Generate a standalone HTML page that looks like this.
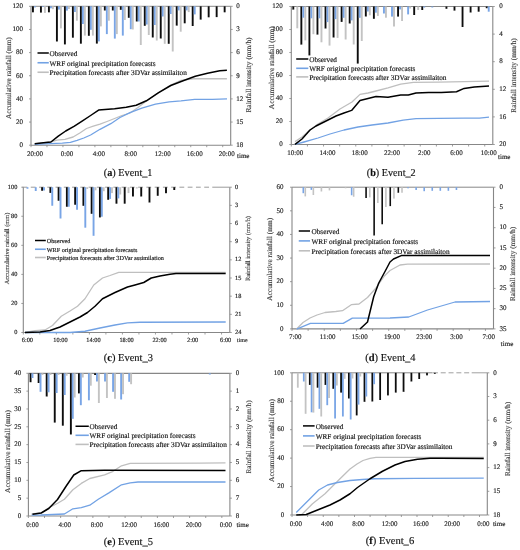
<!DOCTYPE html>
<html><head><meta charset="utf-8"><style>
html,body{margin:0;padding:0;background:#fff;}
svg{display:block;}
text{font-family:"Liberation Serif",serif;text-rendering:geometricPrecision;stroke-width:0.15px;}
</style></head><body>
<svg width="520" height="550" viewBox="0 0 520 550">
<defs><filter id="bl" filterUnits="userSpaceOnUse" x="0" y="0" width="520" height="550"><feGaussianBlur stdDeviation="0.35"/></filter></defs>
<rect width="520" height="550" fill="#fff"/>
<g filter="url(#bl)">
<line x1="31" y1="6.3" x2="230.7" y2="6.3" stroke="#878787" stroke-width="1"/>
<rect x="31.99" y="6.3" width="1.9" height="6" fill="#111111"/>
<rect x="33.99" y="6.3" width="1.9" height="1.1" fill="#79a5e6"/>
<rect x="39.98" y="6.3" width="1.9" height="6.3" fill="#111111"/>
<rect x="41.98" y="6.3" width="1.9" height="0.7" fill="#79a5e6"/>
<rect x="43.98" y="6.3" width="1.9" height="6.6" fill="#c3c3c3"/>
<rect x="47.97" y="6.3" width="1.9" height="6" fill="#111111"/>
<rect x="49.97" y="6.3" width="1.9" height="2" fill="#79a5e6"/>
<rect x="51.97" y="6.3" width="1.9" height="2.9" fill="#c3c3c3"/>
<rect x="55.96" y="6.3" width="1.9" height="35.2" fill="#111111"/>
<rect x="57.96" y="6.3" width="1.9" height="3.3" fill="#79a5e6"/>
<rect x="59.96" y="6.3" width="1.9" height="22.1" fill="#c3c3c3"/>
<rect x="63.95" y="6.3" width="1.9" height="38.1" fill="#111111"/>
<rect x="65.95" y="6.3" width="1.9" height="4.3" fill="#79a5e6"/>
<rect x="67.95" y="6.3" width="1.9" height="2.7" fill="#c3c3c3"/>
<rect x="71.93" y="6.3" width="1.9" height="31.4" fill="#111111"/>
<rect x="73.93" y="6.3" width="1.9" height="5.7" fill="#79a5e6"/>
<rect x="75.93" y="6.3" width="1.9" height="14.4" fill="#c3c3c3"/>
<rect x="79.92" y="6.3" width="1.9" height="37.4" fill="#111111"/>
<rect x="81.92" y="6.3" width="1.9" height="17.7" fill="#79a5e6"/>
<rect x="83.92" y="6.3" width="1.9" height="29.3" fill="#c3c3c3"/>
<rect x="87.91" y="6.3" width="1.9" height="29.5" fill="#111111"/>
<rect x="89.91" y="6.3" width="1.9" height="23.5" fill="#79a5e6"/>
<rect x="91.91" y="6.3" width="1.9" height="29.3" fill="#c3c3c3"/>
<rect x="95.9" y="6.3" width="1.9" height="37.3" fill="#111111"/>
<rect x="97.9" y="6.3" width="1.9" height="35.1" fill="#79a5e6"/>
<rect x="99.9" y="6.3" width="1.9" height="20.1" fill="#c3c3c3"/>
<rect x="103.89" y="6.3" width="1.9" height="4.2" fill="#111111"/>
<rect x="105.89" y="6.3" width="1.9" height="27.8" fill="#79a5e6"/>
<rect x="107.89" y="6.3" width="1.9" height="14.4" fill="#c3c3c3"/>
<rect x="111.87" y="6.3" width="1.9" height="4.2" fill="#111111"/>
<rect x="113.87" y="6.3" width="1.9" height="32.3" fill="#79a5e6"/>
<rect x="115.87" y="6.3" width="1.9" height="27.8" fill="#c3c3c3"/>
<rect x="119.86" y="6.3" width="1.9" height="3.5" fill="#111111"/>
<rect x="121.86" y="6.3" width="1.9" height="29.3" fill="#79a5e6"/>
<rect x="123.86" y="6.3" width="1.9" height="13.7" fill="#c3c3c3"/>
<rect x="127.85" y="6.3" width="1.9" height="11.5" fill="#111111"/>
<rect x="129.85" y="6.3" width="1.9" height="22.9" fill="#79a5e6"/>
<rect x="131.85" y="6.3" width="1.9" height="23.2" fill="#c3c3c3"/>
<rect x="135.84" y="6.3" width="1.9" height="15.2" fill="#111111"/>
<rect x="137.84" y="6.3" width="1.9" height="15.2" fill="#79a5e6"/>
<rect x="139.84" y="6.3" width="1.9" height="38.7" fill="#c3c3c3"/>
<rect x="143.83" y="6.3" width="1.9" height="19.5" fill="#111111"/>
<rect x="145.83" y="6.3" width="1.9" height="18.2" fill="#79a5e6"/>
<rect x="147.83" y="6.3" width="1.9" height="28.7" fill="#c3c3c3"/>
<rect x="151.81" y="6.3" width="1.9" height="31.2" fill="#111111"/>
<rect x="153.81" y="6.3" width="1.9" height="18.7" fill="#79a5e6"/>
<rect x="155.81" y="6.3" width="1.9" height="34.2" fill="#c3c3c3"/>
<rect x="159.8" y="6.3" width="1.9" height="32.2" fill="#111111"/>
<rect x="161.8" y="6.3" width="1.9" height="10.2" fill="#79a5e6"/>
<rect x="163.8" y="6.3" width="1.9" height="37.5" fill="#c3c3c3"/>
<rect x="167.79" y="6.3" width="1.9" height="37.5" fill="#111111"/>
<rect x="169.79" y="6.3" width="1.9" height="7.7" fill="#79a5e6"/>
<rect x="171.79" y="6.3" width="1.9" height="45.2" fill="#c3c3c3"/>
<rect x="175.78" y="6.3" width="1.9" height="19.3" fill="#111111"/>
<rect x="177.78" y="6.3" width="1.9" height="4.1" fill="#79a5e6"/>
<rect x="179.78" y="6.3" width="1.9" height="25.4" fill="#c3c3c3"/>
<rect x="183.77" y="6.3" width="1.9" height="17" fill="#111111"/>
<rect x="185.77" y="6.3" width="1.9" height="4.1" fill="#79a5e6"/>
<rect x="187.77" y="6.3" width="1.9" height="5.8" fill="#c3c3c3"/>
<rect x="191.75" y="6.3" width="1.9" height="19.7" fill="#111111"/>
<rect x="193.75" y="6.3" width="1.9" height="8.1" fill="#79a5e6"/>
<rect x="199.74" y="6.3" width="1.9" height="13.3" fill="#111111"/>
<rect x="207.73" y="6.3" width="1.9" height="11" fill="#111111"/>
<rect x="215.72" y="6.3" width="1.9" height="10.8" fill="#111111"/>
<rect x="223.71" y="6.3" width="1.9" height="6" fill="#111111"/>
<line x1="31" y1="6.3" x2="31" y2="145.2" stroke="#878787" stroke-width="1.1"/>
<line x1="230.7" y1="6.3" x2="230.7" y2="145.2" stroke="#878787" stroke-width="1.1"/>
<line x1="31" y1="145.2" x2="230.7" y2="145.2" stroke="#878787" stroke-width="1.1"/>
<line x1="29" y1="145.2" x2="31" y2="145.2" stroke="#878787" stroke-width="0.8"/>
<text x="22.9" y="146.95" font-size="7" text-anchor="end" fill="#222222" stroke="#222222">0</text>
<line x1="29" y1="122.05" x2="31" y2="122.05" stroke="#878787" stroke-width="0.8"/>
<text x="22.9" y="123.8" font-size="7" text-anchor="end" fill="#222222" stroke="#222222">20</text>
<line x1="29" y1="98.9" x2="31" y2="98.9" stroke="#878787" stroke-width="0.8"/>
<text x="22.9" y="100.65" font-size="7" text-anchor="end" fill="#222222" stroke="#222222">40</text>
<line x1="29" y1="75.75" x2="31" y2="75.75" stroke="#878787" stroke-width="0.8"/>
<text x="22.9" y="77.5" font-size="7" text-anchor="end" fill="#222222" stroke="#222222">60</text>
<line x1="29" y1="52.6" x2="31" y2="52.6" stroke="#878787" stroke-width="0.8"/>
<text x="22.9" y="54.35" font-size="7" text-anchor="end" fill="#222222" stroke="#222222">80</text>
<line x1="29" y1="29.45" x2="31" y2="29.45" stroke="#878787" stroke-width="0.8"/>
<text x="22.9" y="31.2" font-size="7" text-anchor="end" fill="#222222" stroke="#222222">100</text>
<line x1="29" y1="6.3" x2="31" y2="6.3" stroke="#878787" stroke-width="0.8"/>
<text x="22.9" y="8.05" font-size="7" text-anchor="end" fill="#222222" stroke="#222222">120</text>
<line x1="230.7" y1="6.3" x2="232.7" y2="6.3" stroke="#878787" stroke-width="0.8"/>
<text x="236.3" y="8.05" font-size="7" text-anchor="start" fill="#222222" stroke="#222222">0</text>
<line x1="230.7" y1="29.45" x2="232.7" y2="29.45" stroke="#878787" stroke-width="0.8"/>
<text x="236.3" y="31.2" font-size="7" text-anchor="start" fill="#222222" stroke="#222222">3</text>
<line x1="230.7" y1="52.6" x2="232.7" y2="52.6" stroke="#878787" stroke-width="0.8"/>
<text x="236.3" y="54.35" font-size="7" text-anchor="start" fill="#222222" stroke="#222222">6</text>
<line x1="230.7" y1="75.75" x2="232.7" y2="75.75" stroke="#878787" stroke-width="0.8"/>
<text x="236.3" y="77.5" font-size="7" text-anchor="start" fill="#222222" stroke="#222222">9</text>
<line x1="230.7" y1="98.9" x2="232.7" y2="98.9" stroke="#878787" stroke-width="0.8"/>
<text x="236.3" y="100.65" font-size="7" text-anchor="start" fill="#222222" stroke="#222222">12</text>
<line x1="230.7" y1="122.05" x2="232.7" y2="122.05" stroke="#878787" stroke-width="0.8"/>
<text x="236.3" y="123.8" font-size="7" text-anchor="start" fill="#222222" stroke="#222222">15</text>
<line x1="230.7" y1="145.2" x2="232.7" y2="145.2" stroke="#878787" stroke-width="0.8"/>
<text x="236.3" y="146.95" font-size="7" text-anchor="start" fill="#222222" stroke="#222222">18</text>
<line x1="31" y1="145.2" x2="31" y2="147.2" stroke="#878787" stroke-width="0.8"/>
<line x1="46.98" y1="145.2" x2="46.98" y2="147.2" stroke="#878787" stroke-width="0.8"/>
<line x1="62.95" y1="145.2" x2="62.95" y2="147.2" stroke="#878787" stroke-width="0.8"/>
<line x1="78.93" y1="145.2" x2="78.93" y2="147.2" stroke="#878787" stroke-width="0.8"/>
<line x1="94.9" y1="145.2" x2="94.9" y2="147.2" stroke="#878787" stroke-width="0.8"/>
<line x1="110.88" y1="145.2" x2="110.88" y2="147.2" stroke="#878787" stroke-width="0.8"/>
<line x1="126.86" y1="145.2" x2="126.86" y2="147.2" stroke="#878787" stroke-width="0.8"/>
<line x1="142.83" y1="145.2" x2="142.83" y2="147.2" stroke="#878787" stroke-width="0.8"/>
<line x1="158.81" y1="145.2" x2="158.81" y2="147.2" stroke="#878787" stroke-width="0.8"/>
<line x1="174.78" y1="145.2" x2="174.78" y2="147.2" stroke="#878787" stroke-width="0.8"/>
<line x1="190.76" y1="145.2" x2="190.76" y2="147.2" stroke="#878787" stroke-width="0.8"/>
<line x1="206.74" y1="145.2" x2="206.74" y2="147.2" stroke="#878787" stroke-width="0.8"/>
<line x1="222.71" y1="145.2" x2="222.71" y2="147.2" stroke="#878787" stroke-width="0.8"/>
<text x="34.99" y="155.8" font-size="7" text-anchor="middle" fill="#222222" stroke="#222222">20:00</text>
<text x="66.95" y="155.8" font-size="7" text-anchor="middle" fill="#222222" stroke="#222222">0:00</text>
<text x="98.9" y="155.8" font-size="7" text-anchor="middle" fill="#222222" stroke="#222222">4:00</text>
<text x="130.85" y="155.8" font-size="7" text-anchor="middle" fill="#222222" stroke="#222222">8:00</text>
<text x="162.8" y="155.8" font-size="7" text-anchor="middle" fill="#222222" stroke="#222222">12:00</text>
<text x="194.75" y="155.8" font-size="7" text-anchor="middle" fill="#222222" stroke="#222222">16:00</text>
<text x="226.71" y="155.8" font-size="7" text-anchor="middle" fill="#222222" stroke="#222222">20:00</text>
<text x="237" y="158.3" font-size="7" text-anchor="start" fill="#222222" stroke="#222222">time</text>
<polyline points="34.7,143.9 50.2,142 56.9,140.1 65,139.3 73.1,137 79.8,133 86.5,128.5 93.3,126.2 100,124.2 107,121.5 114.6,118.5 122,115.5 130,113 138,107.5 146.4,101 153,96.5 160.7,91.5 170.8,85 181,80.4 193.3,78.75 226.9,78.75" fill="none" stroke="#bfbfbf" stroke-width="1.3" stroke-linejoin="round" stroke-linecap="butt"/>
<polyline points="34.7,144.3 50.2,143.7 62.3,143.1 70.4,142.4 77.1,140.4 83.8,138 90.6,135 100,129.3 110.8,123.7 120,117.5 130,112.6 141.8,108.1 155.5,104.2 169.2,101.8 181,100.8 194.7,99.3 212.4,99.3 227,98.9" fill="none" stroke="#72a2e4" stroke-width="1.3" stroke-linejoin="round" stroke-linecap="butt"/>
<polyline points="34.7,143.7 43.5,142.8 50.9,142 58.3,136.1 65.7,131 74.4,126.2 82.5,120.9 90.6,115.5 98.6,110.1 114.6,108.7 126.2,107.3 136.2,105.2 146.4,100.8 158.6,92.6 170.8,85.5 183.1,80.8 195.3,76.3 207.5,73.2 219.8,70.8 226.9,70.2" fill="none" stroke="#000000" stroke-width="1.5" stroke-linejoin="round" stroke-linecap="butt"/>
<line x1="37.5" y1="53" x2="48.8" y2="53" stroke="#000000" stroke-width="1.5"/>
<text x="49.5" y="55.76" font-size="7.25" text-anchor="start" fill="#111" stroke="#111">Observed</text>
<line x1="37.5" y1="62.75" x2="48.8" y2="62.75" stroke="#72a2e4" stroke-width="1.6"/>
<text x="49.5" y="65.5" font-size="7.25" text-anchor="start" fill="#111" stroke="#111">WRF original precipitation forecasts</text>
<line x1="37.5" y1="72.25" x2="48.8" y2="72.25" stroke="#bfbfbf" stroke-width="1.6"/>
<text x="49.5" y="75" font-size="7.25" text-anchor="start" fill="#111" stroke="#111">Precipitation forecasts after 3DVar assimilaiton</text>
<text transform="translate(11,78.2) rotate(-90)" font-size="7.3" text-anchor="middle" fill="#444" stroke="#444">Accumulative rainfall (mm)</text>
<text transform="translate(251,75) rotate(-90)" font-size="7.4" text-anchor="middle" fill="#444" stroke="#444">Rainfall intensity (mm/h)</text>
<text x="103.8" y="175.5" font-size="10.6" fill="#111" stroke="#111" textLength="48.7" lengthAdjust="spacingAndGlyphs">(<tspan font-weight="bold">a</tspan>) Event_1</text>
<line x1="291.3" y1="6.5" x2="492.8" y2="6.5" stroke="#878787" stroke-width="1"/>
<rect x="292.33" y="6.5" width="1.9" height="3.1" fill="#111111"/>
<rect x="296.33" y="6.5" width="1.9" height="21.8" fill="#c3c3c3"/>
<rect x="300.39" y="6.5" width="1.9" height="38.1" fill="#111111"/>
<rect x="302.39" y="6.5" width="1.9" height="11.2" fill="#79a5e6"/>
<rect x="304.39" y="6.5" width="1.9" height="33.9" fill="#c3c3c3"/>
<rect x="308.45" y="6.5" width="1.9" height="48.9" fill="#111111"/>
<rect x="310.45" y="6.5" width="1.9" height="11.8" fill="#79a5e6"/>
<rect x="312.45" y="6.5" width="1.9" height="27.7" fill="#c3c3c3"/>
<rect x="316.51" y="6.5" width="1.9" height="28.1" fill="#111111"/>
<rect x="318.51" y="6.5" width="1.9" height="11.8" fill="#79a5e6"/>
<rect x="320.51" y="6.5" width="1.9" height="35.8" fill="#c3c3c3"/>
<rect x="324.57" y="6.5" width="1.9" height="22" fill="#111111"/>
<rect x="326.57" y="6.5" width="1.9" height="15.6" fill="#79a5e6"/>
<rect x="328.57" y="6.5" width="1.9" height="39.1" fill="#c3c3c3"/>
<rect x="332.63" y="6.5" width="1.9" height="31" fill="#111111"/>
<rect x="334.63" y="6.5" width="1.9" height="12.6" fill="#79a5e6"/>
<rect x="336.63" y="6.5" width="1.9" height="31.4" fill="#c3c3c3"/>
<rect x="340.69" y="6.5" width="1.9" height="15.4" fill="#111111"/>
<rect x="342.69" y="6.5" width="1.9" height="11.3" fill="#79a5e6"/>
<rect x="344.69" y="6.5" width="1.9" height="33" fill="#c3c3c3"/>
<rect x="348.75" y="6.5" width="1.9" height="17" fill="#111111"/>
<rect x="350.75" y="6.5" width="1.9" height="13.9" fill="#79a5e6"/>
<rect x="352.75" y="6.5" width="1.9" height="38" fill="#c3c3c3"/>
<rect x="356.81" y="6.5" width="1.9" height="57.1" fill="#111111"/>
<rect x="358.81" y="6.5" width="1.9" height="11.3" fill="#79a5e6"/>
<rect x="360.81" y="6.5" width="1.9" height="34.5" fill="#c3c3c3"/>
<rect x="364.87" y="6.5" width="1.9" height="10" fill="#111111"/>
<rect x="366.87" y="6.5" width="1.9" height="5" fill="#79a5e6"/>
<rect x="368.87" y="6.5" width="1.9" height="8.8" fill="#c3c3c3"/>
<rect x="372.93" y="6.5" width="1.9" height="12.3" fill="#111111"/>
<rect x="374.93" y="6.5" width="1.9" height="6.2" fill="#79a5e6"/>
<rect x="376.93" y="6.5" width="1.9" height="9.4" fill="#c3c3c3"/>
<rect x="382.99" y="6.5" width="1.9" height="7" fill="#79a5e6"/>
<rect x="384.99" y="6.5" width="1.9" height="11.2" fill="#c3c3c3"/>
<rect x="391.05" y="6.5" width="1.9" height="10.1" fill="#79a5e6"/>
<rect x="393.05" y="6.5" width="1.9" height="20" fill="#c3c3c3"/>
<rect x="397.11" y="6.5" width="1.9" height="10.1" fill="#111111"/>
<rect x="399.11" y="6.5" width="1.9" height="2.9" fill="#79a5e6"/>
<rect x="401.11" y="6.5" width="1.9" height="14.5" fill="#c3c3c3"/>
<rect x="407.17" y="6.5" width="1.9" height="7.9" fill="#79a5e6"/>
<rect x="409.17" y="6.5" width="1.9" height="2" fill="#c3c3c3"/>
<rect x="413.23" y="6.5" width="1.9" height="8.5" fill="#111111"/>
<rect x="417.23" y="6.5" width="1.9" height="3.5" fill="#c3c3c3"/>
<rect x="421.29" y="6.5" width="1.9" height="3.5" fill="#111111"/>
<rect x="423.29" y="6.5" width="1.9" height="1.1" fill="#79a5e6"/>
<rect x="431.35" y="6.5" width="1.9" height="1" fill="#79a5e6"/>
<rect x="445.47" y="6.5" width="1.9" height="2.3" fill="#111111"/>
<rect x="453.53" y="6.5" width="1.9" height="4.1" fill="#111111"/>
<rect x="461.59" y="6.5" width="1.9" height="20.5" fill="#111111"/>
<rect x="469.65" y="6.5" width="1.9" height="6" fill="#111111"/>
<rect x="477.71" y="6.5" width="1.9" height="5.2" fill="#111111"/>
<rect x="485.77" y="6.5" width="1.9" height="1.7" fill="#111111"/>
<rect x="487.77" y="6.5" width="1.9" height="5.2" fill="#79a5e6"/>
<line x1="291.3" y1="6.5" x2="291.3" y2="144.5" stroke="#878787" stroke-width="1.1"/>
<line x1="492.8" y1="6.5" x2="492.8" y2="144.5" stroke="#878787" stroke-width="1.1"/>
<line x1="291.3" y1="144.5" x2="492.8" y2="144.5" stroke="#878787" stroke-width="1.1"/>
<line x1="289.3" y1="144.5" x2="291.3" y2="144.5" stroke="#878787" stroke-width="0.8"/>
<text x="282.7" y="146.25" font-size="7" text-anchor="end" fill="#222222" stroke="#222222">0</text>
<line x1="289.3" y1="121.5" x2="291.3" y2="121.5" stroke="#878787" stroke-width="0.8"/>
<text x="282.7" y="123.25" font-size="7" text-anchor="end" fill="#222222" stroke="#222222">20</text>
<line x1="289.3" y1="98.5" x2="291.3" y2="98.5" stroke="#878787" stroke-width="0.8"/>
<text x="282.7" y="100.25" font-size="7" text-anchor="end" fill="#222222" stroke="#222222">40</text>
<line x1="289.3" y1="75.5" x2="291.3" y2="75.5" stroke="#878787" stroke-width="0.8"/>
<text x="282.7" y="77.25" font-size="7" text-anchor="end" fill="#222222" stroke="#222222">60</text>
<line x1="289.3" y1="52.5" x2="291.3" y2="52.5" stroke="#878787" stroke-width="0.8"/>
<text x="282.7" y="54.25" font-size="7" text-anchor="end" fill="#222222" stroke="#222222">80</text>
<line x1="289.3" y1="29.5" x2="291.3" y2="29.5" stroke="#878787" stroke-width="0.8"/>
<text x="282.7" y="31.25" font-size="7" text-anchor="end" fill="#222222" stroke="#222222">100</text>
<line x1="289.3" y1="6.5" x2="291.3" y2="6.5" stroke="#878787" stroke-width="0.8"/>
<text x="282.7" y="8.25" font-size="7" text-anchor="end" fill="#222222" stroke="#222222">120</text>
<line x1="492.8" y1="6.5" x2="494.8" y2="6.5" stroke="#878787" stroke-width="0.8"/>
<text x="499.3" y="8.25" font-size="7" text-anchor="start" fill="#222222" stroke="#222222">0</text>
<line x1="492.8" y1="34.1" x2="494.8" y2="34.1" stroke="#878787" stroke-width="0.8"/>
<text x="499.3" y="35.85" font-size="7" text-anchor="start" fill="#222222" stroke="#222222">4</text>
<line x1="492.8" y1="61.7" x2="494.8" y2="61.7" stroke="#878787" stroke-width="0.8"/>
<text x="499.3" y="63.45" font-size="7" text-anchor="start" fill="#222222" stroke="#222222">8</text>
<line x1="492.8" y1="89.3" x2="494.8" y2="89.3" stroke="#878787" stroke-width="0.8"/>
<text x="499.3" y="91.05" font-size="7" text-anchor="start" fill="#222222" stroke="#222222">12</text>
<line x1="492.8" y1="116.9" x2="494.8" y2="116.9" stroke="#878787" stroke-width="0.8"/>
<text x="499.3" y="118.65" font-size="7" text-anchor="start" fill="#222222" stroke="#222222">16</text>
<line x1="492.8" y1="144.5" x2="494.8" y2="144.5" stroke="#878787" stroke-width="0.8"/>
<text x="499.3" y="146.25" font-size="7" text-anchor="start" fill="#222222" stroke="#222222">20</text>
<line x1="291.3" y1="144.5" x2="291.3" y2="146.5" stroke="#878787" stroke-width="0.8"/>
<line x1="307.42" y1="144.5" x2="307.42" y2="146.5" stroke="#878787" stroke-width="0.8"/>
<line x1="323.54" y1="144.5" x2="323.54" y2="146.5" stroke="#878787" stroke-width="0.8"/>
<line x1="339.66" y1="144.5" x2="339.66" y2="146.5" stroke="#878787" stroke-width="0.8"/>
<line x1="355.78" y1="144.5" x2="355.78" y2="146.5" stroke="#878787" stroke-width="0.8"/>
<line x1="371.9" y1="144.5" x2="371.9" y2="146.5" stroke="#878787" stroke-width="0.8"/>
<line x1="388.02" y1="144.5" x2="388.02" y2="146.5" stroke="#878787" stroke-width="0.8"/>
<line x1="404.14" y1="144.5" x2="404.14" y2="146.5" stroke="#878787" stroke-width="0.8"/>
<line x1="420.26" y1="144.5" x2="420.26" y2="146.5" stroke="#878787" stroke-width="0.8"/>
<line x1="436.38" y1="144.5" x2="436.38" y2="146.5" stroke="#878787" stroke-width="0.8"/>
<line x1="452.5" y1="144.5" x2="452.5" y2="146.5" stroke="#878787" stroke-width="0.8"/>
<line x1="468.62" y1="144.5" x2="468.62" y2="146.5" stroke="#878787" stroke-width="0.8"/>
<line x1="484.74" y1="144.5" x2="484.74" y2="146.5" stroke="#878787" stroke-width="0.8"/>
<text x="295.33" y="155.2" font-size="7" text-anchor="middle" fill="#222222" stroke="#222222">10:00</text>
<text x="327.57" y="155.2" font-size="7" text-anchor="middle" fill="#222222" stroke="#222222">14:00</text>
<text x="359.81" y="155.2" font-size="7" text-anchor="middle" fill="#222222" stroke="#222222">18:00</text>
<text x="392.05" y="155.2" font-size="7" text-anchor="middle" fill="#222222" stroke="#222222">22:00</text>
<text x="424.29" y="155.2" font-size="7" text-anchor="middle" fill="#222222" stroke="#222222">2:00</text>
<text x="456.53" y="155.2" font-size="7" text-anchor="middle" fill="#222222" stroke="#222222">6:00</text>
<text x="488.77" y="155.2" font-size="7" text-anchor="middle" fill="#222222" stroke="#222222">10:00</text>
<text x="498" y="159.2" font-size="7" text-anchor="start" fill="#222222" stroke="#222222">time</text>
<polyline points="295,141.6 302,137 310,130 318,124 328,118 340,109 352,102 360,94.4 368,93 376,91 388,87.9 400.7,84.1 413.4,82.3 438.8,82.1 464.1,81.6 489,81.1" fill="none" stroke="#bfbfbf" stroke-width="1.3" stroke-linejoin="round" stroke-linecap="butt"/>
<polyline points="295,144.4 304,142 318,138 330,134 344,130 358,127 372,125 388,123 403.2,120.2 416,118.6 438.8,118.4 464.1,118.1 479.4,118.1 489,117.1" fill="none" stroke="#72a2e4" stroke-width="1.3" stroke-linejoin="round" stroke-linecap="butt"/>
<polyline points="295,144.4 302,139 310,130 316,126 324,122 336,116 344,113 351.6,110.4 360,100.4 368,98.4 376,96.4 388,97.3 400.7,95 408.3,95 416,93 428.6,92.5 441.3,92.5 456.5,91.7 464.1,88.4 474.3,86.9 489,85.9" fill="none" stroke="#000000" stroke-width="1.5" stroke-linejoin="round" stroke-linecap="butt"/>
<line x1="296.2" y1="59" x2="308.3" y2="59" stroke="#000000" stroke-width="1.5"/>
<text x="309.2" y="61.76" font-size="7.25" text-anchor="start" fill="#111" stroke="#111">Observed</text>
<line x1="296.2" y1="68.3" x2="308.3" y2="68.3" stroke="#72a2e4" stroke-width="1.6"/>
<text x="309.2" y="71.05" font-size="7.25" text-anchor="start" fill="#111" stroke="#111">WRF original precipitation forecasts</text>
<line x1="296.2" y1="76.9" x2="308.3" y2="76.9" stroke="#bfbfbf" stroke-width="1.6"/>
<text x="309.2" y="79.66" font-size="7.25" text-anchor="start" fill="#111" stroke="#111">Precipitation forecasts after 3DVar assimilaiton</text>
<text transform="translate(273.5,67.7) rotate(-90)" font-size="7.4" text-anchor="middle" fill="#444" stroke="#444">Accumulative rainfall (mm)</text>
<text transform="translate(515.5,75.5) rotate(-90)" font-size="7.33" text-anchor="middle" fill="#444" stroke="#444">Rainfall intensity (mm/h)</text>
<text x="366.8" y="175.5" font-size="10.6" fill="#111" stroke="#111" textLength="48.9" lengthAdjust="spacingAndGlyphs">(<tspan font-weight="bold">b</tspan>) Event_2</text>
<line x1="22.5" y1="187.2" x2="27.3" y2="187.2" stroke="#9c9c9c" stroke-width="1"/>
<line x1="30.76" y1="187.2" x2="35.56" y2="187.2" stroke="#9c9c9c" stroke-width="1"/>
<line x1="39.02" y1="187.2" x2="43.82" y2="187.2" stroke="#9c9c9c" stroke-width="1"/>
<line x1="47.28" y1="187.2" x2="52.08" y2="187.2" stroke="#9c9c9c" stroke-width="1"/>
<line x1="55.54" y1="187.2" x2="60.34" y2="187.2" stroke="#9c9c9c" stroke-width="1"/>
<line x1="63.8" y1="187.2" x2="68.6" y2="187.2" stroke="#9c9c9c" stroke-width="1"/>
<line x1="72.06" y1="187.2" x2="76.86" y2="187.2" stroke="#9c9c9c" stroke-width="1"/>
<line x1="80.32" y1="187.2" x2="85.12" y2="187.2" stroke="#9c9c9c" stroke-width="1"/>
<line x1="88.58" y1="187.2" x2="93.38" y2="187.2" stroke="#9c9c9c" stroke-width="1"/>
<line x1="96.84" y1="187.2" x2="101.64" y2="187.2" stroke="#9c9c9c" stroke-width="1"/>
<line x1="105.1" y1="187.2" x2="109.9" y2="187.2" stroke="#9c9c9c" stroke-width="1"/>
<line x1="113.36" y1="187.2" x2="118.16" y2="187.2" stroke="#9c9c9c" stroke-width="1"/>
<line x1="121.62" y1="187.2" x2="126.42" y2="187.2" stroke="#9c9c9c" stroke-width="1"/>
<line x1="129.88" y1="187.2" x2="134.68" y2="187.2" stroke="#9c9c9c" stroke-width="1"/>
<line x1="138.14" y1="187.2" x2="142.94" y2="187.2" stroke="#9c9c9c" stroke-width="1"/>
<line x1="146.4" y1="187.2" x2="151.2" y2="187.2" stroke="#9c9c9c" stroke-width="1"/>
<line x1="154.66" y1="187.2" x2="159.46" y2="187.2" stroke="#9c9c9c" stroke-width="1"/>
<line x1="162.92" y1="187.2" x2="167.72" y2="187.2" stroke="#9c9c9c" stroke-width="1"/>
<line x1="171.18" y1="187.2" x2="175.98" y2="187.2" stroke="#9c9c9c" stroke-width="1"/>
<line x1="179.44" y1="187.2" x2="184.24" y2="187.2" stroke="#9c9c9c" stroke-width="1"/>
<line x1="187.7" y1="187.2" x2="192.5" y2="187.2" stroke="#9c9c9c" stroke-width="1"/>
<line x1="195.96" y1="187.2" x2="200.76" y2="187.2" stroke="#9c9c9c" stroke-width="1"/>
<line x1="204.22" y1="187.2" x2="209.02" y2="187.2" stroke="#9c9c9c" stroke-width="1"/>
<line x1="212.28" y1="187.2" x2="229.8" y2="187.2" stroke="#9a9a9a" stroke-width="1"/>
<rect x="26.53" y="187.2" width="1.9" height="1.55" fill="#79a5e6"/>
<rect x="34.79" y="187.2" width="1.9" height="3.8" fill="#79a5e6"/>
<rect x="41.15" y="187.2" width="1.9" height="3.55" fill="#111111"/>
<rect x="43.05" y="187.2" width="1.9" height="3.3" fill="#79a5e6"/>
<rect x="49.41" y="187.2" width="1.9" height="5.7" fill="#111111"/>
<rect x="51.31" y="187.2" width="1.9" height="18.55" fill="#79a5e6"/>
<rect x="57.67" y="187.2" width="1.9" height="13.55" fill="#111111"/>
<rect x="59.57" y="187.2" width="1.9" height="31.3" fill="#79a5e6"/>
<rect x="65.93" y="187.2" width="1.9" height="19.55" fill="#111111"/>
<rect x="67.83" y="187.2" width="1.9" height="19.55" fill="#79a5e6"/>
<rect x="74.19" y="187.2" width="1.9" height="17.55" fill="#111111"/>
<rect x="76.09" y="187.2" width="1.9" height="22.55" fill="#79a5e6"/>
<rect x="82.45" y="187.2" width="1.9" height="18.6" fill="#111111"/>
<rect x="84.35" y="187.2" width="1.9" height="40.5" fill="#79a5e6"/>
<rect x="86.25" y="187.2" width="1.9" height="1.8" fill="#c3c3c3"/>
<rect x="90.71" y="187.2" width="1.9" height="26.6" fill="#111111"/>
<rect x="92.61" y="187.2" width="1.9" height="48.6" fill="#79a5e6"/>
<rect x="94.51" y="187.2" width="1.9" height="3.1" fill="#c3c3c3"/>
<rect x="98.97" y="187.2" width="1.9" height="30.2" fill="#111111"/>
<rect x="100.87" y="187.2" width="1.9" height="29.5" fill="#79a5e6"/>
<rect x="102.77" y="187.2" width="1.9" height="4" fill="#c3c3c3"/>
<rect x="107.23" y="187.2" width="1.9" height="12.6" fill="#111111"/>
<rect x="109.13" y="187.2" width="1.9" height="11.7" fill="#79a5e6"/>
<rect x="111.03" y="187.2" width="1.9" height="5.9" fill="#c3c3c3"/>
<rect x="115.49" y="187.2" width="1.9" height="16.5" fill="#111111"/>
<rect x="117.39" y="187.2" width="1.9" height="11.2" fill="#79a5e6"/>
<rect x="119.29" y="187.2" width="1.9" height="7.3" fill="#c3c3c3"/>
<rect x="123.75" y="187.2" width="1.9" height="16.5" fill="#111111"/>
<rect x="127.55" y="187.2" width="1.9" height="5.9" fill="#c3c3c3"/>
<rect x="132.01" y="187.2" width="1.9" height="9.3" fill="#111111"/>
<rect x="135.81" y="187.2" width="1.9" height="1.3" fill="#c3c3c3"/>
<rect x="140.27" y="187.2" width="1.9" height="9.3" fill="#111111"/>
<rect x="148.53" y="187.2" width="1.9" height="15.3" fill="#111111"/>
<rect x="156.79" y="187.2" width="1.9" height="8.6" fill="#111111"/>
<rect x="165.05" y="187.2" width="1.9" height="6" fill="#111111"/>
<rect x="173.31" y="187.2" width="1.9" height="2.8" fill="#111111"/>
<line x1="23.3" y1="187.2" x2="23.3" y2="332.5" stroke="#878787" stroke-width="1.1"/>
<line x1="229.8" y1="187.2" x2="229.8" y2="332.5" stroke="#878787" stroke-width="1.1"/>
<line x1="23.3" y1="332.5" x2="229.8" y2="332.5" stroke="#878787" stroke-width="1.1"/>
<line x1="21.3" y1="332.5" x2="23.3" y2="332.5" stroke="#878787" stroke-width="0.8"/>
<text x="17.3" y="334.07" font-size="6.3" text-anchor="end" fill="#222222" stroke="#222222">0</text>
<line x1="21.3" y1="303.44" x2="23.3" y2="303.44" stroke="#878787" stroke-width="0.8"/>
<text x="17.3" y="305.01" font-size="6.3" text-anchor="end" fill="#222222" stroke="#222222">20</text>
<line x1="21.3" y1="274.38" x2="23.3" y2="274.38" stroke="#878787" stroke-width="0.8"/>
<text x="17.3" y="275.95" font-size="6.3" text-anchor="end" fill="#222222" stroke="#222222">40</text>
<line x1="21.3" y1="245.32" x2="23.3" y2="245.32" stroke="#878787" stroke-width="0.8"/>
<text x="17.3" y="246.89" font-size="6.3" text-anchor="end" fill="#222222" stroke="#222222">60</text>
<line x1="21.3" y1="216.26" x2="23.3" y2="216.26" stroke="#878787" stroke-width="0.8"/>
<text x="17.3" y="217.83" font-size="6.3" text-anchor="end" fill="#222222" stroke="#222222">80</text>
<line x1="21.3" y1="187.2" x2="23.3" y2="187.2" stroke="#878787" stroke-width="0.8"/>
<text x="17.3" y="188.77" font-size="6.3" text-anchor="end" fill="#222222" stroke="#222222">100</text>
<line x1="229.8" y1="187.2" x2="231.8" y2="187.2" stroke="#878787" stroke-width="0.8"/>
<text x="235" y="188.77" font-size="6.3" text-anchor="start" fill="#222222" stroke="#222222">0</text>
<line x1="229.8" y1="205.36" x2="231.8" y2="205.36" stroke="#878787" stroke-width="0.8"/>
<text x="235" y="206.94" font-size="6.3" text-anchor="start" fill="#222222" stroke="#222222">3</text>
<line x1="229.8" y1="223.52" x2="231.8" y2="223.52" stroke="#878787" stroke-width="0.8"/>
<text x="235" y="225.1" font-size="6.3" text-anchor="start" fill="#222222" stroke="#222222">6</text>
<line x1="229.8" y1="241.69" x2="231.8" y2="241.69" stroke="#878787" stroke-width="0.8"/>
<text x="235" y="243.26" font-size="6.3" text-anchor="start" fill="#222222" stroke="#222222">9</text>
<line x1="229.8" y1="259.85" x2="231.8" y2="259.85" stroke="#878787" stroke-width="0.8"/>
<text x="235" y="261.43" font-size="6.3" text-anchor="start" fill="#222222" stroke="#222222">12</text>
<line x1="229.8" y1="278.01" x2="231.8" y2="278.01" stroke="#878787" stroke-width="0.8"/>
<text x="235" y="279.59" font-size="6.3" text-anchor="start" fill="#222222" stroke="#222222">15</text>
<line x1="229.8" y1="296.18" x2="231.8" y2="296.18" stroke="#878787" stroke-width="0.8"/>
<text x="235" y="297.75" font-size="6.3" text-anchor="start" fill="#222222" stroke="#222222">18</text>
<line x1="229.8" y1="314.34" x2="231.8" y2="314.34" stroke="#878787" stroke-width="0.8"/>
<text x="235" y="315.91" font-size="6.3" text-anchor="start" fill="#222222" stroke="#222222">21</text>
<line x1="229.8" y1="332.5" x2="231.8" y2="332.5" stroke="#878787" stroke-width="0.8"/>
<text x="235" y="334.07" font-size="6.3" text-anchor="start" fill="#222222" stroke="#222222">24</text>
<line x1="23.3" y1="332.5" x2="23.3" y2="334.5" stroke="#878787" stroke-width="0.8"/>
<line x1="39.82" y1="332.5" x2="39.82" y2="334.5" stroke="#878787" stroke-width="0.8"/>
<line x1="56.34" y1="332.5" x2="56.34" y2="334.5" stroke="#878787" stroke-width="0.8"/>
<line x1="72.86" y1="332.5" x2="72.86" y2="334.5" stroke="#878787" stroke-width="0.8"/>
<line x1="89.38" y1="332.5" x2="89.38" y2="334.5" stroke="#878787" stroke-width="0.8"/>
<line x1="105.9" y1="332.5" x2="105.9" y2="334.5" stroke="#878787" stroke-width="0.8"/>
<line x1="122.42" y1="332.5" x2="122.42" y2="334.5" stroke="#878787" stroke-width="0.8"/>
<line x1="138.94" y1="332.5" x2="138.94" y2="334.5" stroke="#878787" stroke-width="0.8"/>
<line x1="155.46" y1="332.5" x2="155.46" y2="334.5" stroke="#878787" stroke-width="0.8"/>
<line x1="171.98" y1="332.5" x2="171.98" y2="334.5" stroke="#878787" stroke-width="0.8"/>
<line x1="188.5" y1="332.5" x2="188.5" y2="334.5" stroke="#878787" stroke-width="0.8"/>
<line x1="205.02" y1="332.5" x2="205.02" y2="334.5" stroke="#878787" stroke-width="0.8"/>
<line x1="221.54" y1="332.5" x2="221.54" y2="334.5" stroke="#878787" stroke-width="0.8"/>
<text x="27.43" y="342" font-size="6.3" text-anchor="middle" fill="#222222" stroke="#222222">6:00</text>
<text x="60.47" y="342" font-size="6.3" text-anchor="middle" fill="#222222" stroke="#222222">10:00</text>
<text x="93.51" y="342" font-size="6.3" text-anchor="middle" fill="#222222" stroke="#222222">14:00</text>
<text x="126.55" y="342" font-size="6.3" text-anchor="middle" fill="#222222" stroke="#222222">18:00</text>
<text x="159.59" y="342" font-size="6.3" text-anchor="middle" fill="#222222" stroke="#222222">22:00</text>
<text x="192.63" y="342" font-size="6.3" text-anchor="middle" fill="#222222" stroke="#222222">2:00</text>
<text x="225.67" y="342" font-size="6.3" text-anchor="middle" fill="#222222" stroke="#222222">6:00</text>
<text x="237" y="342.3" font-size="6" text-anchor="start" fill="#222222" stroke="#222222">time</text>
<polyline points="25,332.5 35,330.75 45,330 52.5,325.5 61.25,316.25 70,311 77.5,306.25 85,298.75 93.75,285 102.5,278 110,275.5 118.75,272.3 225.7,272.3" fill="none" stroke="#bfbfbf" stroke-width="1.3" stroke-linejoin="round" stroke-linecap="butt"/>
<polyline points="25,332.5 70,332.5 85,331.25 100,328 115,325 127.5,322.8 140,322.25 225.7,322" fill="none" stroke="#72a2e4" stroke-width="1.3" stroke-linejoin="round" stroke-linecap="butt"/>
<polyline points="25,332.5 40,332 50,330.5 60,327 70,322 80,317 87.5,312.5 95,306.25 102.5,298.75 115,292.5 127.5,287 135,285 143.75,282.5 151.25,278 160,275.9 170,274.25 176,273.6 225.7,273.6" fill="none" stroke="#000000" stroke-width="1.5" stroke-linejoin="round" stroke-linecap="butt"/>
<line x1="35" y1="240.5" x2="45.8" y2="240.5" stroke="#000000" stroke-width="1.5"/>
<text x="46.75" y="242.86" font-size="6.2" text-anchor="start" fill="#111" stroke="#111">Observed</text>
<line x1="35" y1="249.25" x2="45.8" y2="249.25" stroke="#72a2e4" stroke-width="1.6"/>
<text x="46.75" y="251.61" font-size="6.2" text-anchor="start" fill="#111" stroke="#111">WRF original precipitation forecasts</text>
<line x1="35" y1="257.5" x2="45.8" y2="257.5" stroke="#bfbfbf" stroke-width="1.6"/>
<text x="46.75" y="259.86" font-size="6.2" text-anchor="start" fill="#111" stroke="#111">Precipitation forecasts after 3DVar assimilation</text>
<text transform="translate(8.6,248.5) rotate(-90)" font-size="6.4" text-anchor="middle" fill="#444" stroke="#444">Accumulative rainfall (mm)</text>
<text transform="translate(249.5,248.5) rotate(-90)" font-size="6.4" text-anchor="middle" fill="#444" stroke="#444">Rainfall intensity (mm/h)</text>
<text x="103.8" y="360.7" font-size="10.6" fill="#111" stroke="#111" textLength="49.1" lengthAdjust="spacingAndGlyphs">(<tspan font-weight="bold">c</tspan>) Event_3</text>
<line x1="292" y1="187.2" x2="493.5" y2="187.2" stroke="#878787" stroke-width="1"/>
<rect x="302.49" y="187.2" width="1.6" height="6" fill="#79a5e6"/>
<rect x="304.49" y="187.2" width="1.6" height="9.2" fill="#c3c3c3"/>
<rect x="310.55" y="187.2" width="1.6" height="2.7" fill="#79a5e6"/>
<rect x="312.55" y="187.2" width="1.6" height="7.8" fill="#c3c3c3"/>
<rect x="320.61" y="187.2" width="1.6" height="4.3" fill="#c3c3c3"/>
<rect x="328.67" y="187.2" width="1.6" height="3.2" fill="#c3c3c3"/>
<rect x="344.79" y="187.2" width="1.6" height="1.1" fill="#c3c3c3"/>
<rect x="350.85" y="187.2" width="1.6" height="8.05" fill="#79a5e6"/>
<rect x="352.85" y="187.2" width="1.6" height="9.55" fill="#c3c3c3"/>
<rect x="365.27" y="187.2" width="1.6" height="10.8" fill="#111111"/>
<rect x="368.97" y="187.2" width="1.6" height="10.2" fill="#c3c3c3"/>
<rect x="373.33" y="187.2" width="1.6" height="48.3" fill="#111111"/>
<rect x="377.03" y="187.2" width="1.6" height="15.8" fill="#c3c3c3"/>
<rect x="381.39" y="187.2" width="1.6" height="37.05" fill="#111111"/>
<rect x="385.09" y="187.2" width="1.6" height="19.8" fill="#c3c3c3"/>
<rect x="389.45" y="187.2" width="1.6" height="18.9" fill="#111111"/>
<rect x="393.15" y="187.2" width="1.6" height="11.4" fill="#c3c3c3"/>
<rect x="397.51" y="187.2" width="1.6" height="5.55" fill="#111111"/>
<rect x="401.21" y="187.2" width="1.6" height="5.55" fill="#c3c3c3"/>
<rect x="407.27" y="187.2" width="1.6" height="1.1" fill="#79a5e6"/>
<rect x="415.33" y="187.2" width="1.6" height="2.8" fill="#79a5e6"/>
<rect x="423.39" y="187.2" width="1.6" height="4" fill="#79a5e6"/>
<rect x="431.45" y="187.2" width="1.6" height="3.6" fill="#79a5e6"/>
<rect x="439.51" y="187.2" width="1.6" height="3.6" fill="#79a5e6"/>
<rect x="447.57" y="187.2" width="1.6" height="3.6" fill="#79a5e6"/>
<rect x="455.63" y="187.2" width="1.6" height="2.8" fill="#79a5e6"/>
<line x1="292" y1="187.2" x2="292" y2="328.9" stroke="#878787" stroke-width="1.1"/>
<line x1="493.5" y1="187.2" x2="493.5" y2="328.9" stroke="#878787" stroke-width="1.1"/>
<line x1="292" y1="328.9" x2="493.5" y2="328.9" stroke="#878787" stroke-width="1.1"/>
<line x1="290" y1="328.9" x2="292" y2="328.9" stroke="#878787" stroke-width="0.8"/>
<text x="283.5" y="330.65" font-size="7" text-anchor="end" fill="#222222" stroke="#222222">0</text>
<line x1="290" y1="305.28" x2="292" y2="305.28" stroke="#878787" stroke-width="0.8"/>
<text x="283.5" y="307.03" font-size="7" text-anchor="end" fill="#222222" stroke="#222222">10</text>
<line x1="290" y1="281.67" x2="292" y2="281.67" stroke="#878787" stroke-width="0.8"/>
<text x="283.5" y="283.42" font-size="7" text-anchor="end" fill="#222222" stroke="#222222">20</text>
<line x1="290" y1="258.05" x2="292" y2="258.05" stroke="#878787" stroke-width="0.8"/>
<text x="283.5" y="259.8" font-size="7" text-anchor="end" fill="#222222" stroke="#222222">30</text>
<line x1="290" y1="234.43" x2="292" y2="234.43" stroke="#878787" stroke-width="0.8"/>
<text x="283.5" y="236.18" font-size="7" text-anchor="end" fill="#222222" stroke="#222222">40</text>
<line x1="290" y1="210.82" x2="292" y2="210.82" stroke="#878787" stroke-width="0.8"/>
<text x="283.5" y="212.57" font-size="7" text-anchor="end" fill="#222222" stroke="#222222">50</text>
<line x1="290" y1="187.2" x2="292" y2="187.2" stroke="#878787" stroke-width="0.8"/>
<text x="283.5" y="188.95" font-size="7" text-anchor="end" fill="#222222" stroke="#222222">60</text>
<line x1="493.5" y1="187.2" x2="495.5" y2="187.2" stroke="#878787" stroke-width="0.8"/>
<text x="499.5" y="188.95" font-size="7" text-anchor="start" fill="#222222" stroke="#222222">0</text>
<line x1="493.5" y1="207.44" x2="495.5" y2="207.44" stroke="#878787" stroke-width="0.8"/>
<text x="499.5" y="209.19" font-size="7" text-anchor="start" fill="#222222" stroke="#222222">5</text>
<line x1="493.5" y1="227.69" x2="495.5" y2="227.69" stroke="#878787" stroke-width="0.8"/>
<text x="499.5" y="229.44" font-size="7" text-anchor="start" fill="#222222" stroke="#222222">10</text>
<line x1="493.5" y1="247.93" x2="495.5" y2="247.93" stroke="#878787" stroke-width="0.8"/>
<text x="499.5" y="249.68" font-size="7" text-anchor="start" fill="#222222" stroke="#222222">15</text>
<line x1="493.5" y1="268.17" x2="495.5" y2="268.17" stroke="#878787" stroke-width="0.8"/>
<text x="499.5" y="269.92" font-size="7" text-anchor="start" fill="#222222" stroke="#222222">20</text>
<line x1="493.5" y1="288.41" x2="495.5" y2="288.41" stroke="#878787" stroke-width="0.8"/>
<text x="499.5" y="290.16" font-size="7" text-anchor="start" fill="#222222" stroke="#222222">25</text>
<line x1="493.5" y1="308.66" x2="495.5" y2="308.66" stroke="#878787" stroke-width="0.8"/>
<text x="499.5" y="310.41" font-size="7" text-anchor="start" fill="#222222" stroke="#222222">30</text>
<line x1="493.5" y1="328.9" x2="495.5" y2="328.9" stroke="#878787" stroke-width="0.8"/>
<text x="499.5" y="330.65" font-size="7" text-anchor="start" fill="#222222" stroke="#222222">35</text>
<line x1="292" y1="328.9" x2="292" y2="330.9" stroke="#878787" stroke-width="0.8"/>
<line x1="308.12" y1="328.9" x2="308.12" y2="330.9" stroke="#878787" stroke-width="0.8"/>
<line x1="324.24" y1="328.9" x2="324.24" y2="330.9" stroke="#878787" stroke-width="0.8"/>
<line x1="340.36" y1="328.9" x2="340.36" y2="330.9" stroke="#878787" stroke-width="0.8"/>
<line x1="356.48" y1="328.9" x2="356.48" y2="330.9" stroke="#878787" stroke-width="0.8"/>
<line x1="372.6" y1="328.9" x2="372.6" y2="330.9" stroke="#878787" stroke-width="0.8"/>
<line x1="388.72" y1="328.9" x2="388.72" y2="330.9" stroke="#878787" stroke-width="0.8"/>
<line x1="404.84" y1="328.9" x2="404.84" y2="330.9" stroke="#878787" stroke-width="0.8"/>
<line x1="420.96" y1="328.9" x2="420.96" y2="330.9" stroke="#878787" stroke-width="0.8"/>
<line x1="437.08" y1="328.9" x2="437.08" y2="330.9" stroke="#878787" stroke-width="0.8"/>
<line x1="453.2" y1="328.9" x2="453.2" y2="330.9" stroke="#878787" stroke-width="0.8"/>
<line x1="469.32" y1="328.9" x2="469.32" y2="330.9" stroke="#878787" stroke-width="0.8"/>
<line x1="485.44" y1="328.9" x2="485.44" y2="330.9" stroke="#878787" stroke-width="0.8"/>
<text x="295.33" y="339.2" font-size="7" text-anchor="middle" fill="#222222" stroke="#222222">7:00</text>
<text x="327.57" y="339.2" font-size="7" text-anchor="middle" fill="#222222" stroke="#222222">11:00</text>
<text x="359.81" y="339.2" font-size="7" text-anchor="middle" fill="#222222" stroke="#222222">15:00</text>
<text x="392.05" y="339.2" font-size="7" text-anchor="middle" fill="#222222" stroke="#222222">19:00</text>
<text x="424.29" y="339.2" font-size="7" text-anchor="middle" fill="#222222" stroke="#222222">23:00</text>
<text x="456.53" y="339.2" font-size="7" text-anchor="middle" fill="#222222" stroke="#222222">3:00</text>
<text x="488.77" y="339.2" font-size="7" text-anchor="middle" fill="#222222" stroke="#222222">7:00</text>
<text x="500.8" y="345.8" font-size="7" text-anchor="start" fill="#222222" stroke="#222222">time</text>
<polyline points="296.6,329 303,322.5 310,318 317,315 325,312.5 335.8,311.5 342.5,310.7 351.25,304.7 359,304 367.5,297.5 376,288 384.4,276 390,270.5 400,265 407.5,264.2 490,264" fill="none" stroke="#bfbfbf" stroke-width="1.3" stroke-linejoin="round" stroke-linecap="butt"/>
<polyline points="296.6,329.1 310.4,323.4 343.2,323.4 352.3,318.1 390,318 408.75,317 427.5,310 455,302 490,301.5" fill="none" stroke="#72a2e4" stroke-width="1.3" stroke-linejoin="round" stroke-linecap="butt"/>
<polyline points="360,329 367.5,322 373.75,296.5 378.75,283 385,271.5 390,262 393.5,259 401.25,255.6 490,255.6" fill="none" stroke="#000000" stroke-width="1.5" stroke-linejoin="round" stroke-linecap="butt"/>
<line x1="298.75" y1="231" x2="310" y2="231" stroke="#000000" stroke-width="1.5"/>
<text x="311.4" y="233.77" font-size="7.3" text-anchor="start" fill="#111" stroke="#111">Observed</text>
<line x1="298.75" y1="240.9" x2="310" y2="240.9" stroke="#72a2e4" stroke-width="1.6"/>
<text x="311.4" y="243.67" font-size="7.3" text-anchor="start" fill="#111" stroke="#111">WRF original precipitation forecasts</text>
<line x1="298.75" y1="250.8" x2="310" y2="250.8" stroke="#bfbfbf" stroke-width="1.6"/>
<text x="311.4" y="253.57" font-size="7.3" text-anchor="start" fill="#111" stroke="#111">Precipitation forecasts after 3DVar assimilaiton</text>
<text transform="translate(272,259.3) rotate(-90)" font-size="7.4" text-anchor="middle" fill="#444" stroke="#444">Accumulative rainfall (mm)</text>
<text transform="translate(515.3,264) rotate(-90)" font-size="7.3" text-anchor="middle" fill="#444" stroke="#444">Rainfall intensity (mm/h)</text>
<text x="365.3" y="360.5" font-size="10.6" fill="#111" stroke="#111" textLength="50.2" lengthAdjust="spacingAndGlyphs">(<tspan font-weight="bold">d</tspan>) Event_4</text>
<line x1="28.4" y1="373.3" x2="229.9" y2="373.3" stroke="#6a6a6a" stroke-width="1"/>
<rect x="29.63" y="373.3" width="1.9" height="8.9" fill="#111111"/>
<rect x="31.53" y="373.3" width="1.9" height="4.7" fill="#79a5e6"/>
<rect x="37.69" y="373.3" width="1.9" height="9.7" fill="#111111"/>
<rect x="39.59" y="373.3" width="1.9" height="18.5" fill="#79a5e6"/>
<rect x="41.49" y="373.3" width="1.9" height="1.7" fill="#c3c3c3"/>
<rect x="45.75" y="373.3" width="1.9" height="23.2" fill="#111111"/>
<rect x="47.65" y="373.3" width="1.9" height="19" fill="#79a5e6"/>
<rect x="49.55" y="373.3" width="1.9" height="1.7" fill="#c3c3c3"/>
<rect x="53.81" y="373.3" width="1.9" height="49.3" fill="#111111"/>
<rect x="55.71" y="373.3" width="1.9" height="19.7" fill="#79a5e6"/>
<rect x="57.61" y="373.3" width="1.9" height="1.7" fill="#c3c3c3"/>
<rect x="61.87" y="373.3" width="1.9" height="52.4" fill="#111111"/>
<rect x="63.77" y="373.3" width="1.9" height="21.7" fill="#79a5e6"/>
<rect x="65.67" y="373.3" width="1.9" height="2.4" fill="#c3c3c3"/>
<rect x="69.93" y="373.3" width="1.9" height="61.2" fill="#111111"/>
<rect x="71.83" y="373.3" width="1.9" height="45.5" fill="#79a5e6"/>
<rect x="73.73" y="373.3" width="1.9" height="24.2" fill="#c3c3c3"/>
<rect x="77.99" y="373.3" width="1.9" height="20.1" fill="#111111"/>
<rect x="79.89" y="373.3" width="1.9" height="31.9" fill="#79a5e6"/>
<rect x="81.79" y="373.3" width="1.9" height="4.2" fill="#c3c3c3"/>
<rect x="87.95" y="373.3" width="1.9" height="27" fill="#79a5e6"/>
<rect x="89.85" y="373.3" width="1.9" height="12.4" fill="#c3c3c3"/>
<rect x="94.11" y="373.3" width="1.9" height="1.7" fill="#111111"/>
<rect x="96.01" y="373.3" width="1.9" height="8.2" fill="#79a5e6"/>
<rect x="97.91" y="373.3" width="1.9" height="29.7" fill="#c3c3c3"/>
<rect x="104.07" y="373.3" width="1.9" height="8.2" fill="#79a5e6"/>
<rect x="105.97" y="373.3" width="1.9" height="24.7" fill="#c3c3c3"/>
<rect x="112.13" y="373.3" width="1.9" height="18.5" fill="#79a5e6"/>
<rect x="114.03" y="373.3" width="1.9" height="25.5" fill="#c3c3c3"/>
<rect x="120.19" y="373.3" width="1.9" height="26.2" fill="#79a5e6"/>
<rect x="122.09" y="373.3" width="1.9" height="20.9" fill="#c3c3c3"/>
<rect x="128.25" y="373.3" width="1.9" height="8.5" fill="#79a5e6"/>
<rect x="130.15" y="373.3" width="1.9" height="10.9" fill="#c3c3c3"/>
<rect x="208.85" y="373.3" width="1.9" height="1.2" fill="#79a5e6"/>
<line x1="28.4" y1="373.3" x2="28.4" y2="516" stroke="#878787" stroke-width="1.1"/>
<line x1="229.9" y1="373.3" x2="229.9" y2="516" stroke="#878787" stroke-width="1.1"/>
<line x1="28.4" y1="516" x2="229.9" y2="516" stroke="#878787" stroke-width="1.1"/>
<line x1="26.4" y1="516" x2="28.4" y2="516" stroke="#878787" stroke-width="0.8"/>
<text x="21.3" y="517.75" font-size="7" text-anchor="end" fill="#222222" stroke="#222222">0</text>
<line x1="26.4" y1="498.16" x2="28.4" y2="498.16" stroke="#878787" stroke-width="0.8"/>
<text x="21.3" y="499.91" font-size="7" text-anchor="end" fill="#222222" stroke="#222222">5</text>
<line x1="26.4" y1="480.32" x2="28.4" y2="480.32" stroke="#878787" stroke-width="0.8"/>
<text x="21.3" y="482.07" font-size="7" text-anchor="end" fill="#222222" stroke="#222222">10</text>
<line x1="26.4" y1="462.49" x2="28.4" y2="462.49" stroke="#878787" stroke-width="0.8"/>
<text x="21.3" y="464.24" font-size="7" text-anchor="end" fill="#222222" stroke="#222222">15</text>
<line x1="26.4" y1="444.65" x2="28.4" y2="444.65" stroke="#878787" stroke-width="0.8"/>
<text x="21.3" y="446.4" font-size="7" text-anchor="end" fill="#222222" stroke="#222222">20</text>
<line x1="26.4" y1="426.81" x2="28.4" y2="426.81" stroke="#878787" stroke-width="0.8"/>
<text x="21.3" y="428.56" font-size="7" text-anchor="end" fill="#222222" stroke="#222222">25</text>
<line x1="26.4" y1="408.98" x2="28.4" y2="408.98" stroke="#878787" stroke-width="0.8"/>
<text x="21.3" y="410.73" font-size="7" text-anchor="end" fill="#222222" stroke="#222222">30</text>
<line x1="26.4" y1="391.14" x2="28.4" y2="391.14" stroke="#878787" stroke-width="0.8"/>
<text x="21.3" y="392.89" font-size="7" text-anchor="end" fill="#222222" stroke="#222222">35</text>
<line x1="26.4" y1="373.3" x2="28.4" y2="373.3" stroke="#878787" stroke-width="0.8"/>
<text x="21.3" y="375.05" font-size="7" text-anchor="end" fill="#222222" stroke="#222222">40</text>
<line x1="229.9" y1="373.3" x2="231.9" y2="373.3" stroke="#878787" stroke-width="0.8"/>
<text x="235.7" y="375.05" font-size="7" text-anchor="start" fill="#222222" stroke="#222222">0</text>
<line x1="229.9" y1="391.14" x2="231.9" y2="391.14" stroke="#878787" stroke-width="0.8"/>
<text x="235.7" y="392.89" font-size="7" text-anchor="start" fill="#222222" stroke="#222222">1</text>
<line x1="229.9" y1="408.98" x2="231.9" y2="408.98" stroke="#878787" stroke-width="0.8"/>
<text x="235.7" y="410.73" font-size="7" text-anchor="start" fill="#222222" stroke="#222222">2</text>
<line x1="229.9" y1="426.81" x2="231.9" y2="426.81" stroke="#878787" stroke-width="0.8"/>
<text x="235.7" y="428.56" font-size="7" text-anchor="start" fill="#222222" stroke="#222222">3</text>
<line x1="229.9" y1="444.65" x2="231.9" y2="444.65" stroke="#878787" stroke-width="0.8"/>
<text x="235.7" y="446.4" font-size="7" text-anchor="start" fill="#222222" stroke="#222222">4</text>
<line x1="229.9" y1="462.49" x2="231.9" y2="462.49" stroke="#878787" stroke-width="0.8"/>
<text x="235.7" y="464.24" font-size="7" text-anchor="start" fill="#222222" stroke="#222222">5</text>
<line x1="229.9" y1="480.32" x2="231.9" y2="480.32" stroke="#878787" stroke-width="0.8"/>
<text x="235.7" y="482.07" font-size="7" text-anchor="start" fill="#222222" stroke="#222222">6</text>
<line x1="229.9" y1="498.16" x2="231.9" y2="498.16" stroke="#878787" stroke-width="0.8"/>
<text x="235.7" y="499.91" font-size="7" text-anchor="start" fill="#222222" stroke="#222222">7</text>
<line x1="229.9" y1="516" x2="231.9" y2="516" stroke="#878787" stroke-width="0.8"/>
<text x="235.7" y="517.75" font-size="7" text-anchor="start" fill="#222222" stroke="#222222">8</text>
<line x1="28.4" y1="516" x2="28.4" y2="518" stroke="#878787" stroke-width="0.8"/>
<line x1="44.52" y1="516" x2="44.52" y2="518" stroke="#878787" stroke-width="0.8"/>
<line x1="60.64" y1="516" x2="60.64" y2="518" stroke="#878787" stroke-width="0.8"/>
<line x1="76.76" y1="516" x2="76.76" y2="518" stroke="#878787" stroke-width="0.8"/>
<line x1="92.88" y1="516" x2="92.88" y2="518" stroke="#878787" stroke-width="0.8"/>
<line x1="109" y1="516" x2="109" y2="518" stroke="#878787" stroke-width="0.8"/>
<line x1="125.12" y1="516" x2="125.12" y2="518" stroke="#878787" stroke-width="0.8"/>
<line x1="141.24" y1="516" x2="141.24" y2="518" stroke="#878787" stroke-width="0.8"/>
<line x1="157.36" y1="516" x2="157.36" y2="518" stroke="#878787" stroke-width="0.8"/>
<line x1="173.48" y1="516" x2="173.48" y2="518" stroke="#878787" stroke-width="0.8"/>
<line x1="189.6" y1="516" x2="189.6" y2="518" stroke="#878787" stroke-width="0.8"/>
<line x1="205.72" y1="516" x2="205.72" y2="518" stroke="#878787" stroke-width="0.8"/>
<line x1="221.84" y1="516" x2="221.84" y2="518" stroke="#878787" stroke-width="0.8"/>
<text x="32.43" y="526.6" font-size="7" text-anchor="middle" fill="#222222" stroke="#222222">0:00</text>
<text x="64.67" y="526.6" font-size="7" text-anchor="middle" fill="#222222" stroke="#222222">4:00</text>
<text x="96.91" y="526.6" font-size="7" text-anchor="middle" fill="#222222" stroke="#222222">8:00</text>
<text x="129.15" y="526.6" font-size="7" text-anchor="middle" fill="#222222" stroke="#222222">12:00</text>
<text x="161.39" y="526.6" font-size="7" text-anchor="middle" fill="#222222" stroke="#222222">16:00</text>
<text x="193.63" y="526.6" font-size="7" text-anchor="middle" fill="#222222" stroke="#222222">20:00</text>
<text x="225.87" y="526.6" font-size="7" text-anchor="middle" fill="#222222" stroke="#222222">0:00</text>
<text x="236.4" y="527.3" font-size="7" text-anchor="start" fill="#222222" stroke="#222222">time</text>
<polyline points="31.6,514 41.2,513 49.6,507.3 58.1,503 64.4,499.2 72.9,489.7 81.3,483.4 89.8,478.5 104.6,474.9 113.1,471.3 121.5,465.8 130.2,463.4 200,463.2 225.5,462.8" fill="none" stroke="#bfbfbf" stroke-width="1.3" stroke-linejoin="round" stroke-linecap="butt"/>
<polyline points="31.6,515.1 41.2,515 64.4,514 72.9,508.8 81.3,507.7 89.8,505.2 98.3,499.2 108.9,492.9 121.5,484.8 130.2,482.8 138,482 225.5,482" fill="none" stroke="#72a2e4" stroke-width="1.3" stroke-linejoin="round" stroke-linecap="butt"/>
<polyline points="32.5,514.2 41.2,513 48.75,508.5 57.5,499.5 66.25,486 73.75,475 81.3,470.7 104.6,470.3 225.5,470.5" fill="none" stroke="#000000" stroke-width="1.5" stroke-linejoin="round" stroke-linecap="butt"/>
<line x1="75.5" y1="426.25" x2="88.8" y2="426.25" stroke="#000000" stroke-width="1.5"/>
<text x="89.5" y="429" font-size="7.25" text-anchor="start" fill="#111" stroke="#111">Observed</text>
<line x1="75.5" y1="435.3" x2="88.8" y2="435.3" stroke="#72a2e4" stroke-width="1.6"/>
<text x="89.5" y="438.06" font-size="7.25" text-anchor="start" fill="#111" stroke="#111">WRF original precipitation forecasts</text>
<line x1="75.5" y1="444.4" x2="88.8" y2="444.4" stroke="#bfbfbf" stroke-width="1.6"/>
<text x="89.5" y="447.15" font-size="7.25" text-anchor="start" fill="#111" stroke="#111">Precipitation forecasts after 3DVar assimilaiton</text>
<text transform="translate(10.2,451.5) rotate(-90)" font-size="7.4" text-anchor="middle" fill="#444" stroke="#444">Accumulative rainfall (mm)</text>
<text transform="translate(250.5,437) rotate(-90)" font-size="7.2" text-anchor="middle" fill="#444" stroke="#444">Rainfall intensity (mm/h)</text>
<text x="103.8" y="545.1" font-size="10.6" fill="#111" stroke="#111" textLength="49.1" lengthAdjust="spacingAndGlyphs">(<tspan font-weight="bold">e</tspan>) Event_5</text>
<line x1="292" y1="372.8" x2="432.62" y2="372.8" stroke="#878787" stroke-width="1"/>
<line x1="432.92" y1="372.8" x2="437.92" y2="372.8" stroke="#a0a0a0" stroke-width="1"/>
<line x1="440.73" y1="372.8" x2="445.73" y2="372.8" stroke="#a0a0a0" stroke-width="1"/>
<line x1="448.54" y1="372.8" x2="453.54" y2="372.8" stroke="#a0a0a0" stroke-width="1"/>
<line x1="456.35" y1="372.8" x2="461.35" y2="372.8" stroke="#a0a0a0" stroke-width="1"/>
<line x1="464.16" y1="372.8" x2="469.16" y2="372.8" stroke="#a0a0a0" stroke-width="1"/>
<line x1="471.68" y1="372.8" x2="487.3" y2="372.8" stroke="#a0a0a0" stroke-width="1"/>
<rect x="296.91" y="372.8" width="1.8" height="14.9" fill="#c3c3c3"/>
<rect x="302.92" y="372.8" width="1.8" height="8.7" fill="#79a5e6"/>
<rect x="304.72" y="372.8" width="1.8" height="41" fill="#c3c3c3"/>
<rect x="308.93" y="372.8" width="1.8" height="12.1" fill="#111111"/>
<rect x="310.73" y="372.8" width="1.8" height="39.5" fill="#79a5e6"/>
<rect x="312.53" y="372.8" width="1.8" height="39.8" fill="#c3c3c3"/>
<rect x="316.74" y="372.8" width="1.8" height="14.9" fill="#111111"/>
<rect x="318.54" y="372.8" width="1.8" height="36" fill="#79a5e6"/>
<rect x="320.34" y="372.8" width="1.8" height="43.7" fill="#c3c3c3"/>
<rect x="324.55" y="372.8" width="1.8" height="12.1" fill="#111111"/>
<rect x="326.35" y="372.8" width="1.8" height="32.4" fill="#79a5e6"/>
<rect x="328.15" y="372.8" width="1.8" height="25.2" fill="#c3c3c3"/>
<rect x="332.37" y="372.8" width="1.8" height="16" fill="#111111"/>
<rect x="334.17" y="372.8" width="1.8" height="45.7" fill="#79a5e6"/>
<rect x="335.97" y="372.8" width="1.8" height="12.7" fill="#c3c3c3"/>
<rect x="340.18" y="372.8" width="1.8" height="19.8" fill="#111111"/>
<rect x="341.98" y="372.8" width="1.8" height="43.7" fill="#79a5e6"/>
<rect x="343.78" y="372.8" width="1.8" height="6" fill="#c3c3c3"/>
<rect x="347.99" y="372.8" width="1.8" height="25.7" fill="#111111"/>
<rect x="349.79" y="372.8" width="1.8" height="46.7" fill="#79a5e6"/>
<rect x="351.59" y="372.8" width="1.8" height="5.7" fill="#c3c3c3"/>
<rect x="355.8" y="372.8" width="1.8" height="42.6" fill="#111111"/>
<rect x="357.6" y="372.8" width="1.8" height="31.8" fill="#79a5e6"/>
<rect x="359.4" y="372.8" width="1.8" height="3.7" fill="#c3c3c3"/>
<rect x="363.61" y="372.8" width="1.8" height="29" fill="#111111"/>
<rect x="365.41" y="372.8" width="1.8" height="23.7" fill="#79a5e6"/>
<rect x="371.43" y="372.8" width="1.8" height="28.7" fill="#111111"/>
<rect x="373.23" y="372.8" width="1.8" height="11.4" fill="#79a5e6"/>
<rect x="379.24" y="372.8" width="1.8" height="27.2" fill="#111111"/>
<rect x="387.05" y="372.8" width="1.8" height="22.6" fill="#111111"/>
<rect x="394.86" y="372.8" width="1.8" height="19.8" fill="#111111"/>
<rect x="402.67" y="372.8" width="1.8" height="19" fill="#111111"/>
<rect x="410.49" y="372.8" width="1.8" height="8.7" fill="#111111"/>
<rect x="418.3" y="372.8" width="1.8" height="6.2" fill="#111111"/>
<rect x="426.11" y="372.8" width="1.8" height="2.6" fill="#111111"/>
<rect x="433.92" y="372.8" width="1.8" height="1" fill="#111111"/>
<line x1="292" y1="372.8" x2="292" y2="515" stroke="#878787" stroke-width="1.1"/>
<line x1="487.3" y1="372.8" x2="487.3" y2="515" stroke="#878787" stroke-width="1.1"/>
<line x1="292" y1="515" x2="487.3" y2="515" stroke="#878787" stroke-width="1.1"/>
<line x1="290" y1="515" x2="292" y2="515" stroke="#878787" stroke-width="0.8"/>
<text x="284.2" y="516.75" font-size="7" text-anchor="end" fill="#222222" stroke="#222222">0</text>
<line x1="290" y1="486.56" x2="292" y2="486.56" stroke="#878787" stroke-width="0.8"/>
<text x="284.2" y="488.31" font-size="7" text-anchor="end" fill="#222222" stroke="#222222">20</text>
<line x1="290" y1="458.12" x2="292" y2="458.12" stroke="#878787" stroke-width="0.8"/>
<text x="284.2" y="459.87" font-size="7" text-anchor="end" fill="#222222" stroke="#222222">40</text>
<line x1="290" y1="429.68" x2="292" y2="429.68" stroke="#878787" stroke-width="0.8"/>
<text x="284.2" y="431.43" font-size="7" text-anchor="end" fill="#222222" stroke="#222222">60</text>
<line x1="290" y1="401.24" x2="292" y2="401.24" stroke="#878787" stroke-width="0.8"/>
<text x="284.2" y="402.99" font-size="7" text-anchor="end" fill="#222222" stroke="#222222">80</text>
<line x1="290" y1="372.8" x2="292" y2="372.8" stroke="#878787" stroke-width="0.8"/>
<text x="284.2" y="374.55" font-size="7" text-anchor="end" fill="#222222" stroke="#222222">100</text>
<line x1="487.3" y1="372.8" x2="489.3" y2="372.8" stroke="#878787" stroke-width="0.8"/>
<text x="493.3" y="374.55" font-size="7" text-anchor="start" fill="#222222" stroke="#222222">0</text>
<line x1="487.3" y1="396.5" x2="489.3" y2="396.5" stroke="#878787" stroke-width="0.8"/>
<text x="493.3" y="398.25" font-size="7" text-anchor="start" fill="#222222" stroke="#222222">3</text>
<line x1="487.3" y1="420.2" x2="489.3" y2="420.2" stroke="#878787" stroke-width="0.8"/>
<text x="493.3" y="421.95" font-size="7" text-anchor="start" fill="#222222" stroke="#222222">6</text>
<line x1="487.3" y1="443.9" x2="489.3" y2="443.9" stroke="#878787" stroke-width="0.8"/>
<text x="493.3" y="445.65" font-size="7" text-anchor="start" fill="#222222" stroke="#222222">9</text>
<line x1="487.3" y1="467.6" x2="489.3" y2="467.6" stroke="#878787" stroke-width="0.8"/>
<text x="493.3" y="469.35" font-size="7" text-anchor="start" fill="#222222" stroke="#222222">12</text>
<line x1="487.3" y1="491.3" x2="489.3" y2="491.3" stroke="#878787" stroke-width="0.8"/>
<text x="493.3" y="493.05" font-size="7" text-anchor="start" fill="#222222" stroke="#222222">15</text>
<line x1="487.3" y1="515" x2="489.3" y2="515" stroke="#878787" stroke-width="0.8"/>
<text x="493.3" y="516.75" font-size="7" text-anchor="start" fill="#222222" stroke="#222222">18</text>
<line x1="292" y1="515" x2="292" y2="517" stroke="#878787" stroke-width="0.8"/>
<line x1="307.62" y1="515" x2="307.62" y2="517" stroke="#878787" stroke-width="0.8"/>
<line x1="323.25" y1="515" x2="323.25" y2="517" stroke="#878787" stroke-width="0.8"/>
<line x1="338.87" y1="515" x2="338.87" y2="517" stroke="#878787" stroke-width="0.8"/>
<line x1="354.5" y1="515" x2="354.5" y2="517" stroke="#878787" stroke-width="0.8"/>
<line x1="370.12" y1="515" x2="370.12" y2="517" stroke="#878787" stroke-width="0.8"/>
<line x1="385.74" y1="515" x2="385.74" y2="517" stroke="#878787" stroke-width="0.8"/>
<line x1="401.37" y1="515" x2="401.37" y2="517" stroke="#878787" stroke-width="0.8"/>
<line x1="416.99" y1="515" x2="416.99" y2="517" stroke="#878787" stroke-width="0.8"/>
<line x1="432.62" y1="515" x2="432.62" y2="517" stroke="#878787" stroke-width="0.8"/>
<line x1="448.24" y1="515" x2="448.24" y2="517" stroke="#878787" stroke-width="0.8"/>
<line x1="463.86" y1="515" x2="463.86" y2="517" stroke="#878787" stroke-width="0.8"/>
<line x1="479.49" y1="515" x2="479.49" y2="517" stroke="#878787" stroke-width="0.8"/>
<text x="295.91" y="525.8" font-size="7" text-anchor="middle" fill="#222222" stroke="#222222">0:00</text>
<text x="327.15" y="525.8" font-size="7" text-anchor="middle" fill="#222222" stroke="#222222">4:00</text>
<text x="358.4" y="525.8" font-size="7" text-anchor="middle" fill="#222222" stroke="#222222">8:00</text>
<text x="389.65" y="525.8" font-size="7" text-anchor="middle" fill="#222222" stroke="#222222">12:00</text>
<text x="420.9" y="525.8" font-size="7" text-anchor="middle" fill="#222222" stroke="#222222">16:00</text>
<text x="452.15" y="525.8" font-size="7" text-anchor="middle" fill="#222222" stroke="#222222">20:00</text>
<text x="483.39" y="525.8" font-size="7" text-anchor="middle" fill="#222222" stroke="#222222">0:00</text>
<text x="492.9" y="525.8" font-size="7" text-anchor="start" fill="#222222" stroke="#222222">time</text>
<polyline points="301.25,515 312.5,503.75 325,493.75 337.5,481.25 350,469 357,464 363,460.5 370,458.3 376,457.3 483.75,457.3" fill="none" stroke="#bfbfbf" stroke-width="1.3" stroke-linejoin="round" stroke-linecap="butt"/>
<polyline points="296.25,512.5 308.75,500 318.75,490 327.5,485 337.5,482.5 350,480.5 362.5,479.5 375,478.75 415,478.4 483.75,478.2" fill="none" stroke="#72a2e4" stroke-width="1.3" stroke-linejoin="round" stroke-linecap="butt"/>
<polyline points="296.25,515 306.25,514.5 318.75,509.5 330,505 340,500 350,493.75 357.5,487.5 370,478.75 382.5,471.25 395,465 405,461.5 417.5,459.3 430,458.3 440,458.25 483.75,458.6" fill="none" stroke="#000000" stroke-width="1.5" stroke-linejoin="round" stroke-linecap="butt"/>
<line x1="303" y1="425.9" x2="314.6" y2="425.9" stroke="#000000" stroke-width="1.5"/>
<text x="315.7" y="428.64" font-size="7.22" text-anchor="start" fill="#111" stroke="#111">Observed</text>
<line x1="303" y1="435.9" x2="314.6" y2="435.9" stroke="#72a2e4" stroke-width="1.6"/>
<text x="315.7" y="438.64" font-size="7.22" text-anchor="start" fill="#111" stroke="#111">WRF original precipitation forecasts</text>
<line x1="303" y1="446" x2="314.6" y2="446" stroke="#bfbfbf" stroke-width="1.6"/>
<text x="315.7" y="448.74" font-size="7.22" text-anchor="start" fill="#111" stroke="#111">Precipitation forecasts after 3DVar assimilaiton</text>
<text transform="translate(273.5,440.5) rotate(-90)" font-size="7.4" text-anchor="middle" fill="#444" stroke="#444">Accumulative rainfall (mm)</text>
<text transform="translate(510.3,438.9) rotate(-90)" font-size="7.3" text-anchor="middle" fill="#444" stroke="#444">Rainfall intensity (mm/h)</text>
<text x="365.8" y="544.3" font-size="10.6" fill="#111" stroke="#111" textLength="48.4" lengthAdjust="spacingAndGlyphs">(<tspan font-weight="bold">f</tspan>) Event_6</text>
</g>
</svg>
</body></html>
